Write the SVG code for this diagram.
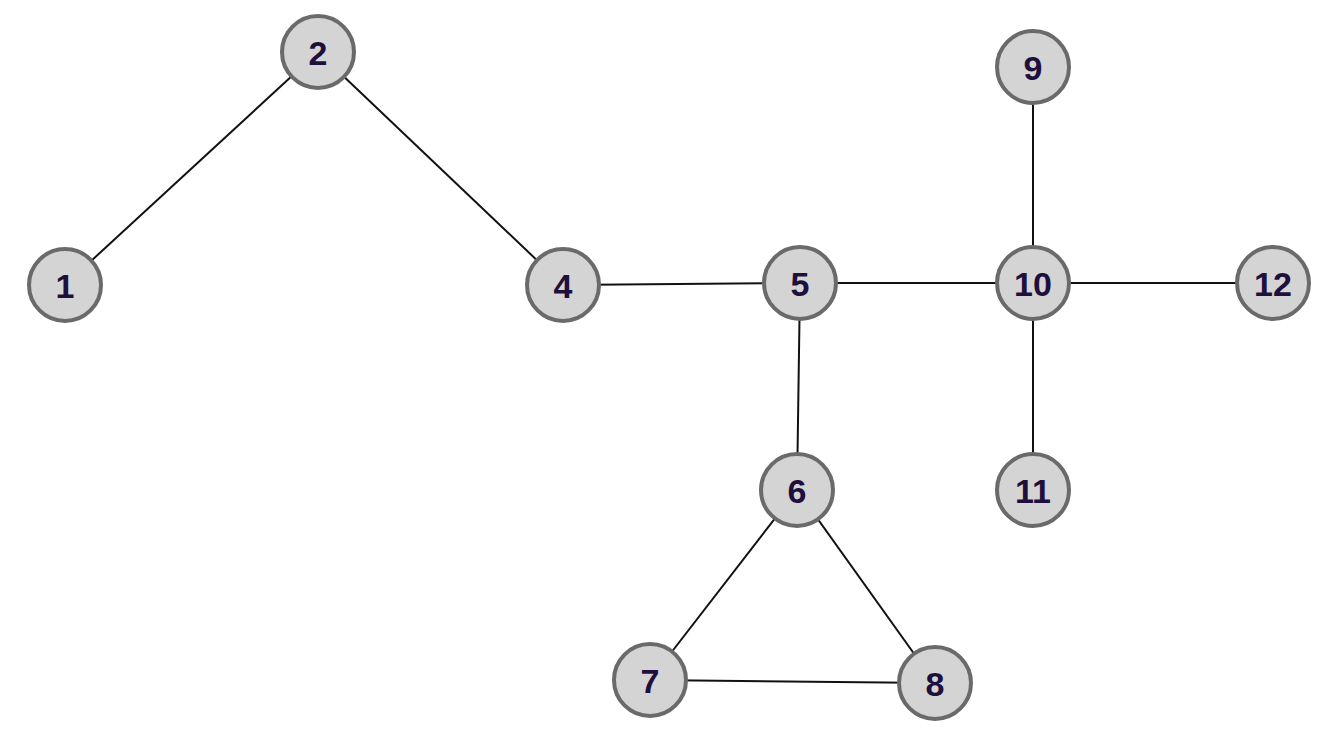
<svg xmlns="http://www.w3.org/2000/svg" width="1330" height="738" viewBox="0 0 1330 738">
<style>
.n circle{fill:#d4d4d4;stroke:#6a6a6a;stroke-width:4}
.n text{font-family:"Liberation Sans",Arial,sans-serif;font-weight:bold;font-size:34px;fill:#1e0f3c;text-anchor:middle;dominant-baseline:central}
.e line{stroke:#111;stroke-width:2}
</style>
<rect width="1330" height="738" fill="#fff"/>
<g id="edges" class="e">
<line x1="318" y1="52" x2="65" y2="285"/>
<line x1="318" y1="52" x2="563" y2="285"/>
<line x1="563" y1="285" x2="800" y2="283"/>
<line x1="800" y1="283" x2="1033" y2="283"/>
<line x1="800" y1="283" x2="797" y2="490"/>
<line x1="797" y1="490" x2="650" y2="680"/>
<line x1="797" y1="490" x2="935" y2="683"/>
<line x1="650" y1="680" x2="935" y2="683"/>
<line x1="1033" y1="67" x2="1033" y2="283"/>
<line x1="1033" y1="283" x2="1033" y2="490"/>
<line x1="1033" y1="283" x2="1273" y2="283"/>
</g>
<g id="n1" class="n"><circle cx="65" cy="285" r="36"/><text x="65" y="286">1</text></g>
<g id="n2" class="n"><circle cx="318" cy="52" r="36"/><text x="318" y="53">2</text></g>
<g id="n4" class="n"><circle cx="563" cy="285" r="36"/><text x="563" y="286">4</text></g>
<g id="n5" class="n"><circle cx="800" cy="283" r="36"/><text x="800" y="284">5</text></g>
<g id="n6" class="n"><circle cx="797" cy="490" r="36"/><text x="797" y="491">6</text></g>
<g id="n7" class="n"><circle cx="650" cy="680" r="36"/><text x="650" y="681">7</text></g>
<g id="n8" class="n"><circle cx="935" cy="683" r="36"/><text x="935" y="684">8</text></g>
<g id="n9" class="n"><circle cx="1033" cy="67" r="36"/><text x="1033" y="68">9</text></g>
<g id="n10" class="n"><circle cx="1033" cy="283" r="36"/><text x="1033" y="284">10</text></g>
<g id="n11" class="n"><circle cx="1033" cy="490" r="36"/><text x="1033" y="491">11</text></g>
<g id="n12" class="n"><circle cx="1273" cy="283" r="36"/><text x="1273" y="284">12</text></g>
</svg>
